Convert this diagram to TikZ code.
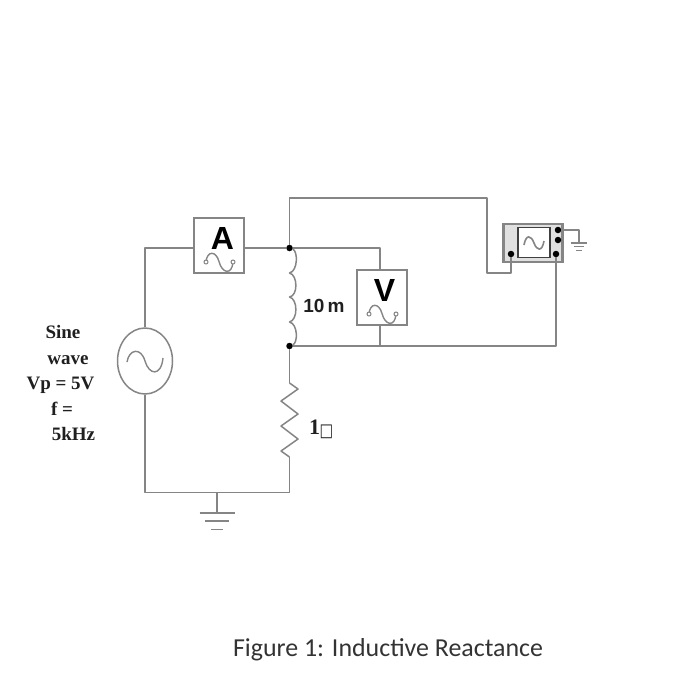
\documentclass[tikz,border=0pt]{standalone}
\usepackage{fontspec}
\usetikzlibrary{shapes.geometric}
\setmainfont{Liberation Serif}
\newfontfamily\capfont{Carlito}
\newfontfamily\labfont{Liberation Sans}
\newfontfamily\symfont{DejaVu Sans}
\definecolor{wire}{gray}{0.52}
\definecolor{ink}{gray}{0.12}
\tikzset{
  w/.style={draw=wire,line width=1.5pt,line join=round},
  thinw/.style={draw=wire,line width=1.3pt},
  meter/.style={draw=wire,line width=1.7pt,fill=white,minimum width=50pt,minimum height=55pt,inner sep=0pt},
  dot/.style={circle,fill=black,inner sep=0pt,minimum size=6.5pt},
  meterlet/.style={font=\labfont\bfseries\fontsize{32}{32}\selectfont,text=black,inner sep=0pt},
  ring/.style={circle,draw=wire,line width=1pt,fill=white,inner sep=0pt,minimum size=4pt},
  sval/.style={font=\bfseries\fontsize{19}{19}\selectfont,text=ink,inner sep=0pt,anchor=base},
  pics/gnd/.style={code={
    \draw[thinw] (-#1,0) -- (#1,0);
    \draw[thinw] (-0.68*#1,0.45*#1) -- (0.68*#1,0.45*#1);
    \draw[thinw] (-0.33*#1,0.95*#1) -- (0.33*#1,0.95*#1);
  }},
  pics/metersine/.style={code={
    \draw[draw=wire,line width=1.4pt] (-13,16.5) .. controls (-12,5) and (-3,5) .. (0,16)
       .. controls (3,28) and (13,30) .. (14,16.5);
    \node[ring] at (-13,16.5) {};
    \node[ring] at (14,16.5) {};
  }}
}
\begin{document}
\begin{tikzpicture}[x=1pt,y=-1pt]
\useasboundingbox (0,0) rectangle (700,699);
% junction and corner points
\node[dot] (j1) at (289.5,248) {};
\node[dot] (j2) at (289.5,346) {};
\coordinate (tl) at (145,248);
\coordinate (bl) at (145,492.5);
\coordinate (br) at (289.5,492.5);
\coordinate (g1) at (217,492.5);
\coordinate (g2) at (217,513);
\coordinate (top1) at (289.5,198);
\coordinate (top2) at (487,198);
\coordinate (low) at (487,273);
\coordinate (vt) at (380,248);
\coordinate (vb) at (380,346);
\coordinate (rt) at (289.5,383);
\coordinate (rb) at (289.5,457);
% components
\node[meter] (A) at (219,245.5) {};
\node[meter] (V) at (382,297.5) {};
\node[meterlet] (Al) at (222.5,238.5) {A};
\node[meterlet] (Vl) at (384.5,290.5) {V};
\pic at (A) {metersine};
\pic at (V) {metersine};
\node[draw=wire,line width=1.5pt,fill=white,ellipse,minimum width=55pt,minimum height=66pt,inner sep=0pt] (src) at (145,361) {};
\draw[draw=wire,line width=1.4pt] (127,362) .. controls (129,349) and (141,347) .. (145,361)
   .. controls (149,375) and (161,377) .. (163,358);
% scope
\node[draw=wire,line width=2.2pt,fill=black!12,minimum width=59pt,minimum height=38pt,inner sep=0pt] (scope) at (533,243) {};
\node[draw=black!75,line width=1.3pt,fill=white,minimum width=32pt,minimum height=30pt,inner sep=0pt] (screen) at (534,242.5) {};
\draw[draw=wire,line width=1.6pt] (524,245) .. controls (526,234) and (531,235) .. (534,243)
   .. controls (537,251) and (542,252) .. (544,241);
\node[dot] (s1) at (511,254) {};
\node[dot] (s2) at (558,230) {};
\node[dot] (s3) at (558,240) {};
\node[dot] (s4) at (556,254) {};
\coordinate (sg1) at (579,230);
\coordinate (sg2) at (579,243);
% wires
\draw[w] (src.north) -- (tl) -- (A.west |- tl);
\draw[w] (A.east |- j1) -- (j1);
\draw[w] (j1) -- (vt) -- (V.north -| vt);
\draw[w] (V.south -| vb) -- (vb);
\draw[w] (j2) -- (s4 |- j2) -- (s4);
\draw[w] (j1) -- (top1) -- (top2) -- (low) -- (s1 |- low) -- (s1);
\draw[w] (src.south) -- (bl) -- (br) -- (rb);
\draw[w] (j2) -- (rt);
\draw[w] (g1) -- (g2);
\draw[w] (s2) -- (sg1) -- (sg2);
\pic at (g2) {gnd=17.5};
\pic at (sg2) {gnd=8};
% inductor
\draw[w] (j1) .. controls (298,251) and (298,271) .. (289.5,273)
  .. controls (298,275) and (298,296) .. (289.5,297)
  .. controls (298,299) and (298,320) .. (289.5,322)
  .. controls (298,324) and (298,343) .. (j2);
% resistor
\draw[w] (rt) -- (298,389) -- (281,401) -- (298,414) -- (281,426) -- (298,439) -- (281,451) -- (rb);
% labels
\node[font=\labfont\bfseries\fontsize{19}{19}\selectfont,text=ink,inner sep=0pt,anchor=base] (lm) at (324,312) {10\,m};
\node[sval] (n1) at (63,338) {Sine};
\node[sval] (n2) at (68,364.5) {wave};
\node[sval] (n3) at (60.5,389) {Vp = 5V};
\node[sval] (n4) at (62,415) {f =};
\node[sval] (n5) at (73.5,440.5) {5kHz};
\node[font=\bfseries\fontsize{22}{22}\selectfont,text=ink,inner sep=0pt] (r1) at (314.5,427) {1};
\node[font=\symfont\fontsize{18}{18}\selectfont,text=ink,inner sep=0pt,transform shape,xscale=.8] (r2) at (326.5,432) {□};
\node[font=\capfont\fontsize{25.9}{26}\selectfont,text=black!80,inner sep=0pt,anchor=base] (cap) at (388,656) {Figure 1: Inductive Reactance};
\end{tikzpicture}
\end{document}
